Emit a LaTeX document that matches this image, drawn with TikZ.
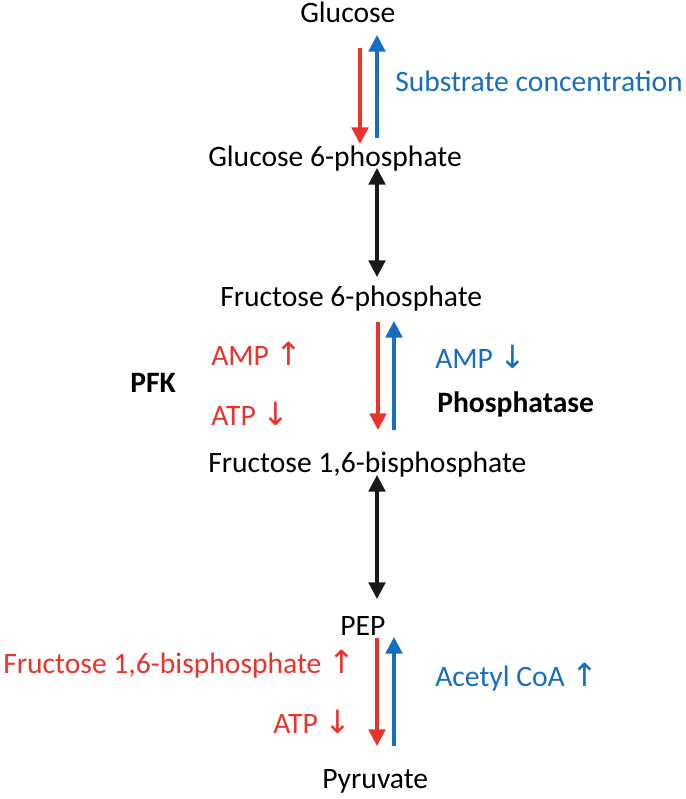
\documentclass[tikz,border=0pt]{standalone}
\usepackage{fontspec}
\setmainfont{Carlito}
\newfontfamily\arrfont{DejaVu Sans}
\usetikzlibrary{arrows.meta}
\definecolor{cred}{RGB}{236,50,45}
\definecolor{cblue}{RGB}{22,110,190}
\newcommand{\upar}{{\arrfont\fontsize{24}{26}\selectfont ↑}}
\newcommand{\dnar}{{\arrfont\fontsize{24}{26}\selectfont ↓}}
\begin{document}
\begin{tikzpicture}[x=0.75pt,y=-0.75pt,
  lbl/.style={anchor=base west,inner sep=0pt,font=\fontsize{22.2}{26}\selectfont},
  redlbl/.style={lbl,text=cred},
  bluelbl/.style={lbl,text=cblue},
  boldlbl/.style={lbl,font=\fontsize{22.2}{26}\selectfont\bfseries},
  tip/.style={-{Triangle[width=12.5pt,length=12.5pt]}},
  redarr/.style={tip,draw=cred,fill=cred,line width=2.45pt},
  bluearr/.style={tip,draw=cblue,fill=cblue,line width=2.45pt},
  blackarr/.style={{Triangle[width=12.5pt,length=12.5pt]}-{Triangle[width=12.5pt,length=12.5pt]},draw=black!90,fill=black!90,line width=2.45pt}]
\path[use as bounding box] (0,0) rectangle (685,799);
% metabolites
\node[lbl] (glc) at (300,23) {Glucose};
\node[lbl] (g6p) at (208,166) {Glucose 6-phosphate};
\node[lbl] (f6p) at (220,306) {Fructose 6-phosphate};
\node[lbl] (f16) at (208,472) {Fructose 1,6-bisphosphate};
\node[lbl] (pep) at (340,635) {PEP};
\node[lbl] (pyr) at (322,788) {Pyruvate};
% regulators
\node[bluelbl] (sub) at (395,92) {Substrate concentration};
\node[redlbl] (amp1) at (211,365) {AMP \upar};
\node[redlbl] (atp1) at (211,425) {ATP \dnar};
\node[boldlbl] (pfk) at (130,392) {PFK};
\node[bluelbl] (amp2) at (435,368) {AMP \dnar};
\node[boldlbl] (pase) at (437,412) {Phosphatase};
\node[redlbl] (f16r) at (3,673) {Fructose 1,6-bisphosphate \upar};
\node[redlbl] (atp2) at (273,733) {ATP \dnar};
\node[bluelbl] (acoa) at (435,686) {Acetyl CoA \upar};
% arrow end points
\coordinate (r1s) at (360,48);  \coordinate (r1e) at (360,144);
\coordinate (b1s) at (377,138); \coordinate (b1e) at (377,35);
\coordinate (k1s) at (377,168); \coordinate (k1e) at (377,277);
\coordinate (r2s) at (378,322); \coordinate (r2e) at (378,430);
\coordinate (b2s) at (394,430); \coordinate (b2e) at (394,321);
\coordinate (k2s) at (377,475); \coordinate (k2e) at (377,599);
\coordinate (r3s) at (377,638); \coordinate (r3e) at (377,746);
\coordinate (b3s) at (394,746); \coordinate (b3e) at (394,637);
\draw[redarr] (r1s) -- (r1e);
\draw[bluearr] (b1s) -- (b1e);
\draw[blackarr] (k1s) -- (k1e);
\draw[redarr] (r2s) -- (r2e);
\draw[bluearr] (b2s) -- (b2e);
\draw[blackarr] (k2s) -- (k2e);
\draw[redarr] (r3s) -- (r3e);
\draw[bluearr] (b3s) -- (b3e);
\end{tikzpicture}
\end{document}
